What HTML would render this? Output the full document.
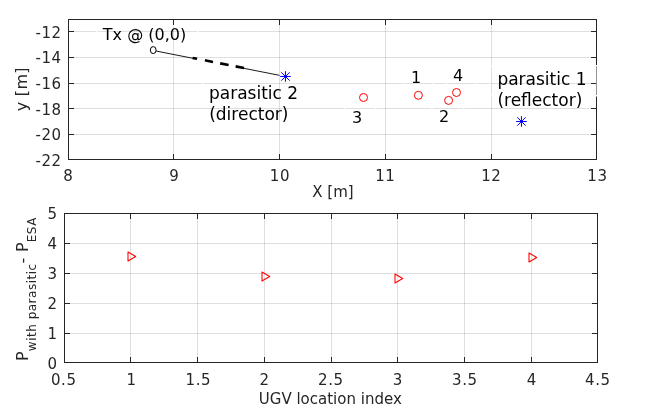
<!DOCTYPE html><html><head><meta charset="utf-8"><title>plot</title><style>
html,body{margin:0;padding:0;background:#fff;}svg{display:block;}text{font-family:"DejaVu Sans","Liberation Sans",sans-serif;}
.t{font-size:15px;fill:#262626;}.k{letter-spacing:0.6px;}.a{font-size:16px;fill:#000;}.b{font-size:17px;fill:#000;}
</style></head><body>
<svg width="650" height="407" viewBox="0 0 650 407">
<rect width="650" height="407" fill="#fff"/>
<line x1="68.5" y1="19.5" x2="68.5" y2="159.5" stroke="#262626" stroke-opacity="0.15" stroke-width="1"/>
<line x1="173.5" y1="19.5" x2="173.5" y2="159.5" stroke="#262626" stroke-opacity="0.15" stroke-width="1"/>
<line x1="279.5" y1="19.5" x2="279.5" y2="159.5" stroke="#262626" stroke-opacity="0.15" stroke-width="1"/>
<line x1="385.5" y1="19.5" x2="385.5" y2="159.5" stroke="#262626" stroke-opacity="0.15" stroke-width="1"/>
<line x1="491.5" y1="19.5" x2="491.5" y2="159.5" stroke="#262626" stroke-opacity="0.15" stroke-width="1"/>
<line x1="596.5" y1="19.5" x2="596.5" y2="159.5" stroke="#262626" stroke-opacity="0.15" stroke-width="1"/>
<line x1="68.5" y1="159.5" x2="596.5" y2="159.5" stroke="#262626" stroke-opacity="0.15" stroke-width="1"/>
<line x1="68.5" y1="134.5" x2="596.5" y2="134.5" stroke="#262626" stroke-opacity="0.15" stroke-width="1"/>
<line x1="68.5" y1="108.5" x2="596.5" y2="108.5" stroke="#262626" stroke-opacity="0.15" stroke-width="1"/>
<line x1="68.5" y1="83.5" x2="596.5" y2="83.5" stroke="#262626" stroke-opacity="0.15" stroke-width="1"/>
<line x1="68.5" y1="57.5" x2="596.5" y2="57.5" stroke="#262626" stroke-opacity="0.15" stroke-width="1"/>
<line x1="68.5" y1="31.5" x2="596.5" y2="31.5" stroke="#262626" stroke-opacity="0.15" stroke-width="1"/>
<line x1="64.5" y1="213.5" x2="64.5" y2="362.5" stroke="#262626" stroke-opacity="0.15" stroke-width="1"/>
<line x1="130.5" y1="213.5" x2="130.5" y2="362.5" stroke="#262626" stroke-opacity="0.15" stroke-width="1"/>
<line x1="197.5" y1="213.5" x2="197.5" y2="362.5" stroke="#262626" stroke-opacity="0.15" stroke-width="1"/>
<line x1="264.5" y1="213.5" x2="264.5" y2="362.5" stroke="#262626" stroke-opacity="0.15" stroke-width="1"/>
<line x1="331.5" y1="213.5" x2="331.5" y2="362.5" stroke="#262626" stroke-opacity="0.15" stroke-width="1"/>
<line x1="397.5" y1="213.5" x2="397.5" y2="362.5" stroke="#262626" stroke-opacity="0.15" stroke-width="1"/>
<line x1="464.5" y1="213.5" x2="464.5" y2="362.5" stroke="#262626" stroke-opacity="0.15" stroke-width="1"/>
<line x1="531.5" y1="213.5" x2="531.5" y2="362.5" stroke="#262626" stroke-opacity="0.15" stroke-width="1"/>
<line x1="597.5" y1="213.5" x2="597.5" y2="362.5" stroke="#262626" stroke-opacity="0.15" stroke-width="1"/>
<line x1="64.5" y1="362.5" x2="597.5" y2="362.5" stroke="#262626" stroke-opacity="0.15" stroke-width="1"/>
<line x1="64.5" y1="333.5" x2="597.5" y2="333.5" stroke="#262626" stroke-opacity="0.15" stroke-width="1"/>
<line x1="64.5" y1="303.5" x2="597.5" y2="303.5" stroke="#262626" stroke-opacity="0.15" stroke-width="1"/>
<line x1="64.5" y1="273.5" x2="597.5" y2="273.5" stroke="#262626" stroke-opacity="0.15" stroke-width="1"/>
<line x1="64.5" y1="243.5" x2="597.5" y2="243.5" stroke="#262626" stroke-opacity="0.15" stroke-width="1"/>
<line x1="64.5" y1="213.5" x2="597.5" y2="213.5" stroke="#262626" stroke-opacity="0.15" stroke-width="1"/>
<rect x="202.1" y="82.8" width="1.4" height="1.4" fill="#fff"/>
<rect x="403.8" y="82.8" width="1.4" height="1.4" fill="#fff"/>
<rect x="432.3" y="82.8" width="1.4" height="1.4" fill="#fff"/>
<rect x="445.8" y="82.8" width="1.4" height="1.4" fill="#fff"/>
<rect x="475.5" y="82.8" width="1.4" height="1.4" fill="#fff"/>
<rect x="489.4" y="82.8" width="1.4" height="1.4" fill="#fff"/>
<rect x="343.9" y="107.8" width="1.4" height="1.4" fill="#fff"/>
<rect x="374.8" y="107.8" width="1.4" height="1.4" fill="#fff"/>
<rect x="431.2" y="107.8" width="1.4" height="1.4" fill="#fff"/>
<rect x="463" y="107.8" width="1.4" height="1.4" fill="#fff"/>
<rect x="96.3" y="30.8" width="1.4" height="1.4" fill="#fff"/>
<rect x="196.9" y="30.8" width="1.4" height="1.4" fill="#fff"/>
<rect x="490.8" y="65.2" width="1.4" height="1.4" fill="#fff"/>
<rect x="490.8" y="94.2" width="1.4" height="1.4" fill="#fff"/>
<rect x="172.8" y="24.5" width="1.4" height="1.4" fill="#fff"/>
<line x1="156.2" y1="51.05" x2="193" y2="58.2989" stroke="#000" stroke-width="0.9"/>
<line x1="243.5" y1="68.2465" x2="279.5" y2="75.3378" stroke="#000" stroke-width="0.9"/>
<line x1="192.6" y1="57.9202" x2="197.1" y2="58.8066" stroke="#000" stroke-width="2.6"/>
<line x1="204.9" y1="60.343" x2="213" y2="61.9386" stroke="#000" stroke-width="2.6"/>
<line x1="220.2" y1="63.3568" x2="228.6" y2="65.0115" stroke="#000" stroke-width="2.6"/>
<line x1="235.6" y1="66.3903" x2="244" y2="68.045" stroke="#000" stroke-width="2.6"/>
<ellipse cx="153.2" cy="50.1" rx="2.9" ry="3.5" fill="#fff" stroke="#000" stroke-width="1"/>
<path d="M285.45 71.17V81.77M280.15 76.47H290.75M281.25 72.27L289.65 80.67M281.25 80.67L289.65 72.27" stroke="#0000ff" stroke-width="1" fill="none"/>
<path d="M521.45 116.17V126.77M516.15 121.47H526.75M517.25 117.27L525.65 125.67M517.25 125.67L525.65 117.27" stroke="#0000ff" stroke-width="1" fill="none"/>
<circle cx="363.5" cy="97.5" r="4.0" fill="none" stroke="#ff0000" stroke-width="1"/>
<circle cx="418.4" cy="95.3" r="4.0" fill="none" stroke="#ff0000" stroke-width="1"/>
<circle cx="448.6" cy="100.4" r="4.0" fill="none" stroke="#ff0000" stroke-width="1"/>
<circle cx="456.5" cy="92.5" r="4.0" fill="none" stroke="#ff0000" stroke-width="1"/>
<path d="M128 251.95L135.7 256.45L128 260.95Z" stroke="#ff0000" stroke-width="1.08" stroke-linejoin="round" fill="none"/>
<path d="M262 271.95L269.7 276.45L262 280.95Z" stroke="#ff0000" stroke-width="1.08" stroke-linejoin="round" fill="none"/>
<path d="M395 273.95L402.7 278.45L395 282.95Z" stroke="#ff0000" stroke-width="1.08" stroke-linejoin="round" fill="none"/>
<path d="M529 252.95L536.7 257.45L529 261.95Z" stroke="#ff0000" stroke-width="1.08" stroke-linejoin="round" fill="none"/>
<rect x="68.5" y="19.5" width="528" height="140" fill="none" stroke="#262626" stroke-width="1"/>
<path d="M68.5 159.5v-5.5M68.5 19.5v5.5M173.5 159.5v-5.5M173.5 19.5v5.5M279.5 159.5v-5.5M279.5 19.5v5.5M385.5 159.5v-5.5M385.5 19.5v5.5M491.5 159.5v-5.5M491.5 19.5v5.5M596.5 159.5v-5.5M596.5 19.5v5.5M68.5 159.5h5.5M596.5 159.5h-5.5M68.5 134.5h5.5M596.5 134.5h-5.5M68.5 108.5h5.5M596.5 108.5h-5.5M68.5 83.5h5.5M596.5 83.5h-5.5M68.5 57.5h5.5M596.5 57.5h-5.5M68.5 31.5h5.5M596.5 31.5h-5.5" stroke="#262626" stroke-width="1" fill="none"/>
<rect x="64.5" y="213.5" width="533" height="149" fill="none" stroke="#262626" stroke-width="1"/>
<path d="M64.5 362.5v-5.5M64.5 213.5v5.5M130.5 362.5v-5.5M130.5 213.5v5.5M197.5 362.5v-5.5M197.5 213.5v5.5M264.5 362.5v-5.5M264.5 213.5v5.5M331.5 362.5v-5.5M331.5 213.5v5.5M397.5 362.5v-5.5M397.5 213.5v5.5M464.5 362.5v-5.5M464.5 213.5v5.5M531.5 362.5v-5.5M531.5 213.5v5.5M597.5 362.5v-5.5M597.5 213.5v5.5M64.5 362.5h5.5M597.5 362.5h-5.5M64.5 333.5h5.5M597.5 333.5h-5.5M64.5 303.5h5.5M597.5 303.5h-5.5M64.5 273.5h5.5M597.5 273.5h-5.5M64.5 243.5h5.5M597.5 243.5h-5.5M64.5 213.5h5.5M597.5 213.5h-5.5" stroke="#262626" stroke-width="1" fill="none"/>
<path d="M596.5 66.2V94.9" stroke="#fff" stroke-opacity="0.5" stroke-width="1.2" fill="none"/>
<path d="M596.5 64.9V66.2M596.5 94.9V96.4" stroke="#fff" stroke-width="1.2" fill="none"/>
<text class="t k" x="68.4" y="181" text-anchor="middle">8</text>
<text class="t k" x="174.4" y="181" text-anchor="middle">9</text>
<text class="t k" x="280" y="181" text-anchor="middle">10</text>
<text class="t k" x="385.3" y="181" text-anchor="middle">11</text>
<text class="t k" x="491.3" y="181" text-anchor="middle">12</text>
<text class="t k" x="597.5" y="181" text-anchor="middle">13</text>
<text class="t k" x="61.7" y="165.8" text-anchor="end">-22</text>
<text class="t k" x="61.7" y="140.3" text-anchor="end">-20</text>
<text class="t k" x="61.7" y="114.8" text-anchor="end">-18</text>
<text class="t k" x="61.7" y="89.2" text-anchor="end">-16</text>
<text class="t k" x="61.7" y="63.2" text-anchor="end">-14</text>
<text class="t k" x="61.7" y="37.8" text-anchor="end">-12</text>
<text class="t k" x="63.8" y="384.5" text-anchor="middle">0.5</text>
<text class="t k" x="131.5" y="384.5" text-anchor="middle">1</text>
<text class="t k" x="198.4" y="384.5" text-anchor="middle">1.5</text>
<text class="t k" x="264.5" y="384.5" text-anchor="middle">2</text>
<text class="t k" x="330.9" y="384.5" text-anchor="middle">2.5</text>
<text class="t k" x="397.9" y="384.5" text-anchor="middle">3</text>
<text class="t k" x="464.9" y="384.5" text-anchor="middle">3.5</text>
<text class="t k" x="531.9" y="384.5" text-anchor="middle">4</text>
<text class="t k" x="597.9" y="384.5" text-anchor="middle">4.5</text>
<text class="t" x="57" y="368.85" text-anchor="end">0</text>
<text class="t" x="57" y="339.25" text-anchor="end">1</text>
<text class="t" x="57" y="309.25" text-anchor="end">2</text>
<text class="t" x="57" y="279.25" text-anchor="end">3</text>
<text class="t" x="57" y="249.25" text-anchor="end">4</text>
<text class="t" x="57" y="219.25" text-anchor="end">5</text>
<text class="t" x="333" y="197" text-anchor="middle">X [m]</text>
<text class="t" x="330.3" y="403.5" text-anchor="middle">UGV location index</text>
<text class="t" style="font-size:16px;letter-spacing:0.3px" transform="translate(27,111.3) rotate(-90)">y [m]</text>
<text class="t" style="font-size:16px;letter-spacing:0.2px" transform="translate(28,361) rotate(-90)">P<tspan dy="8.4" style="font-size:12px;letter-spacing:0.5px">with parasitic</tspan><tspan dy="-8.4">- P</tspan><tspan dy="8.4" style="font-size:12px;letter-spacing:0.5px">ESA</tspan></text>
<text class="a" x="102.8" y="40">Tx @ (0,0)</text>
<text class="b" x="209.0" y="98.6">parasitic 2</text>
<text class="b" x="209.2" y="120.1">(director)</text>
<text class="b" x="497.4" y="84.5">parasitic 1</text>
<text class="b" x="497.4" y="106.1">(reflector)</text>
<text class="a" x="416" y="83.2" text-anchor="middle">1</text>
<text class="a" x="458" y="81" text-anchor="middle">4</text>
<text class="a" x="357.2" y="122.7" text-anchor="middle">3</text>
<text class="a" x="444" y="121.7" text-anchor="middle">2</text>
</svg></body></html>
